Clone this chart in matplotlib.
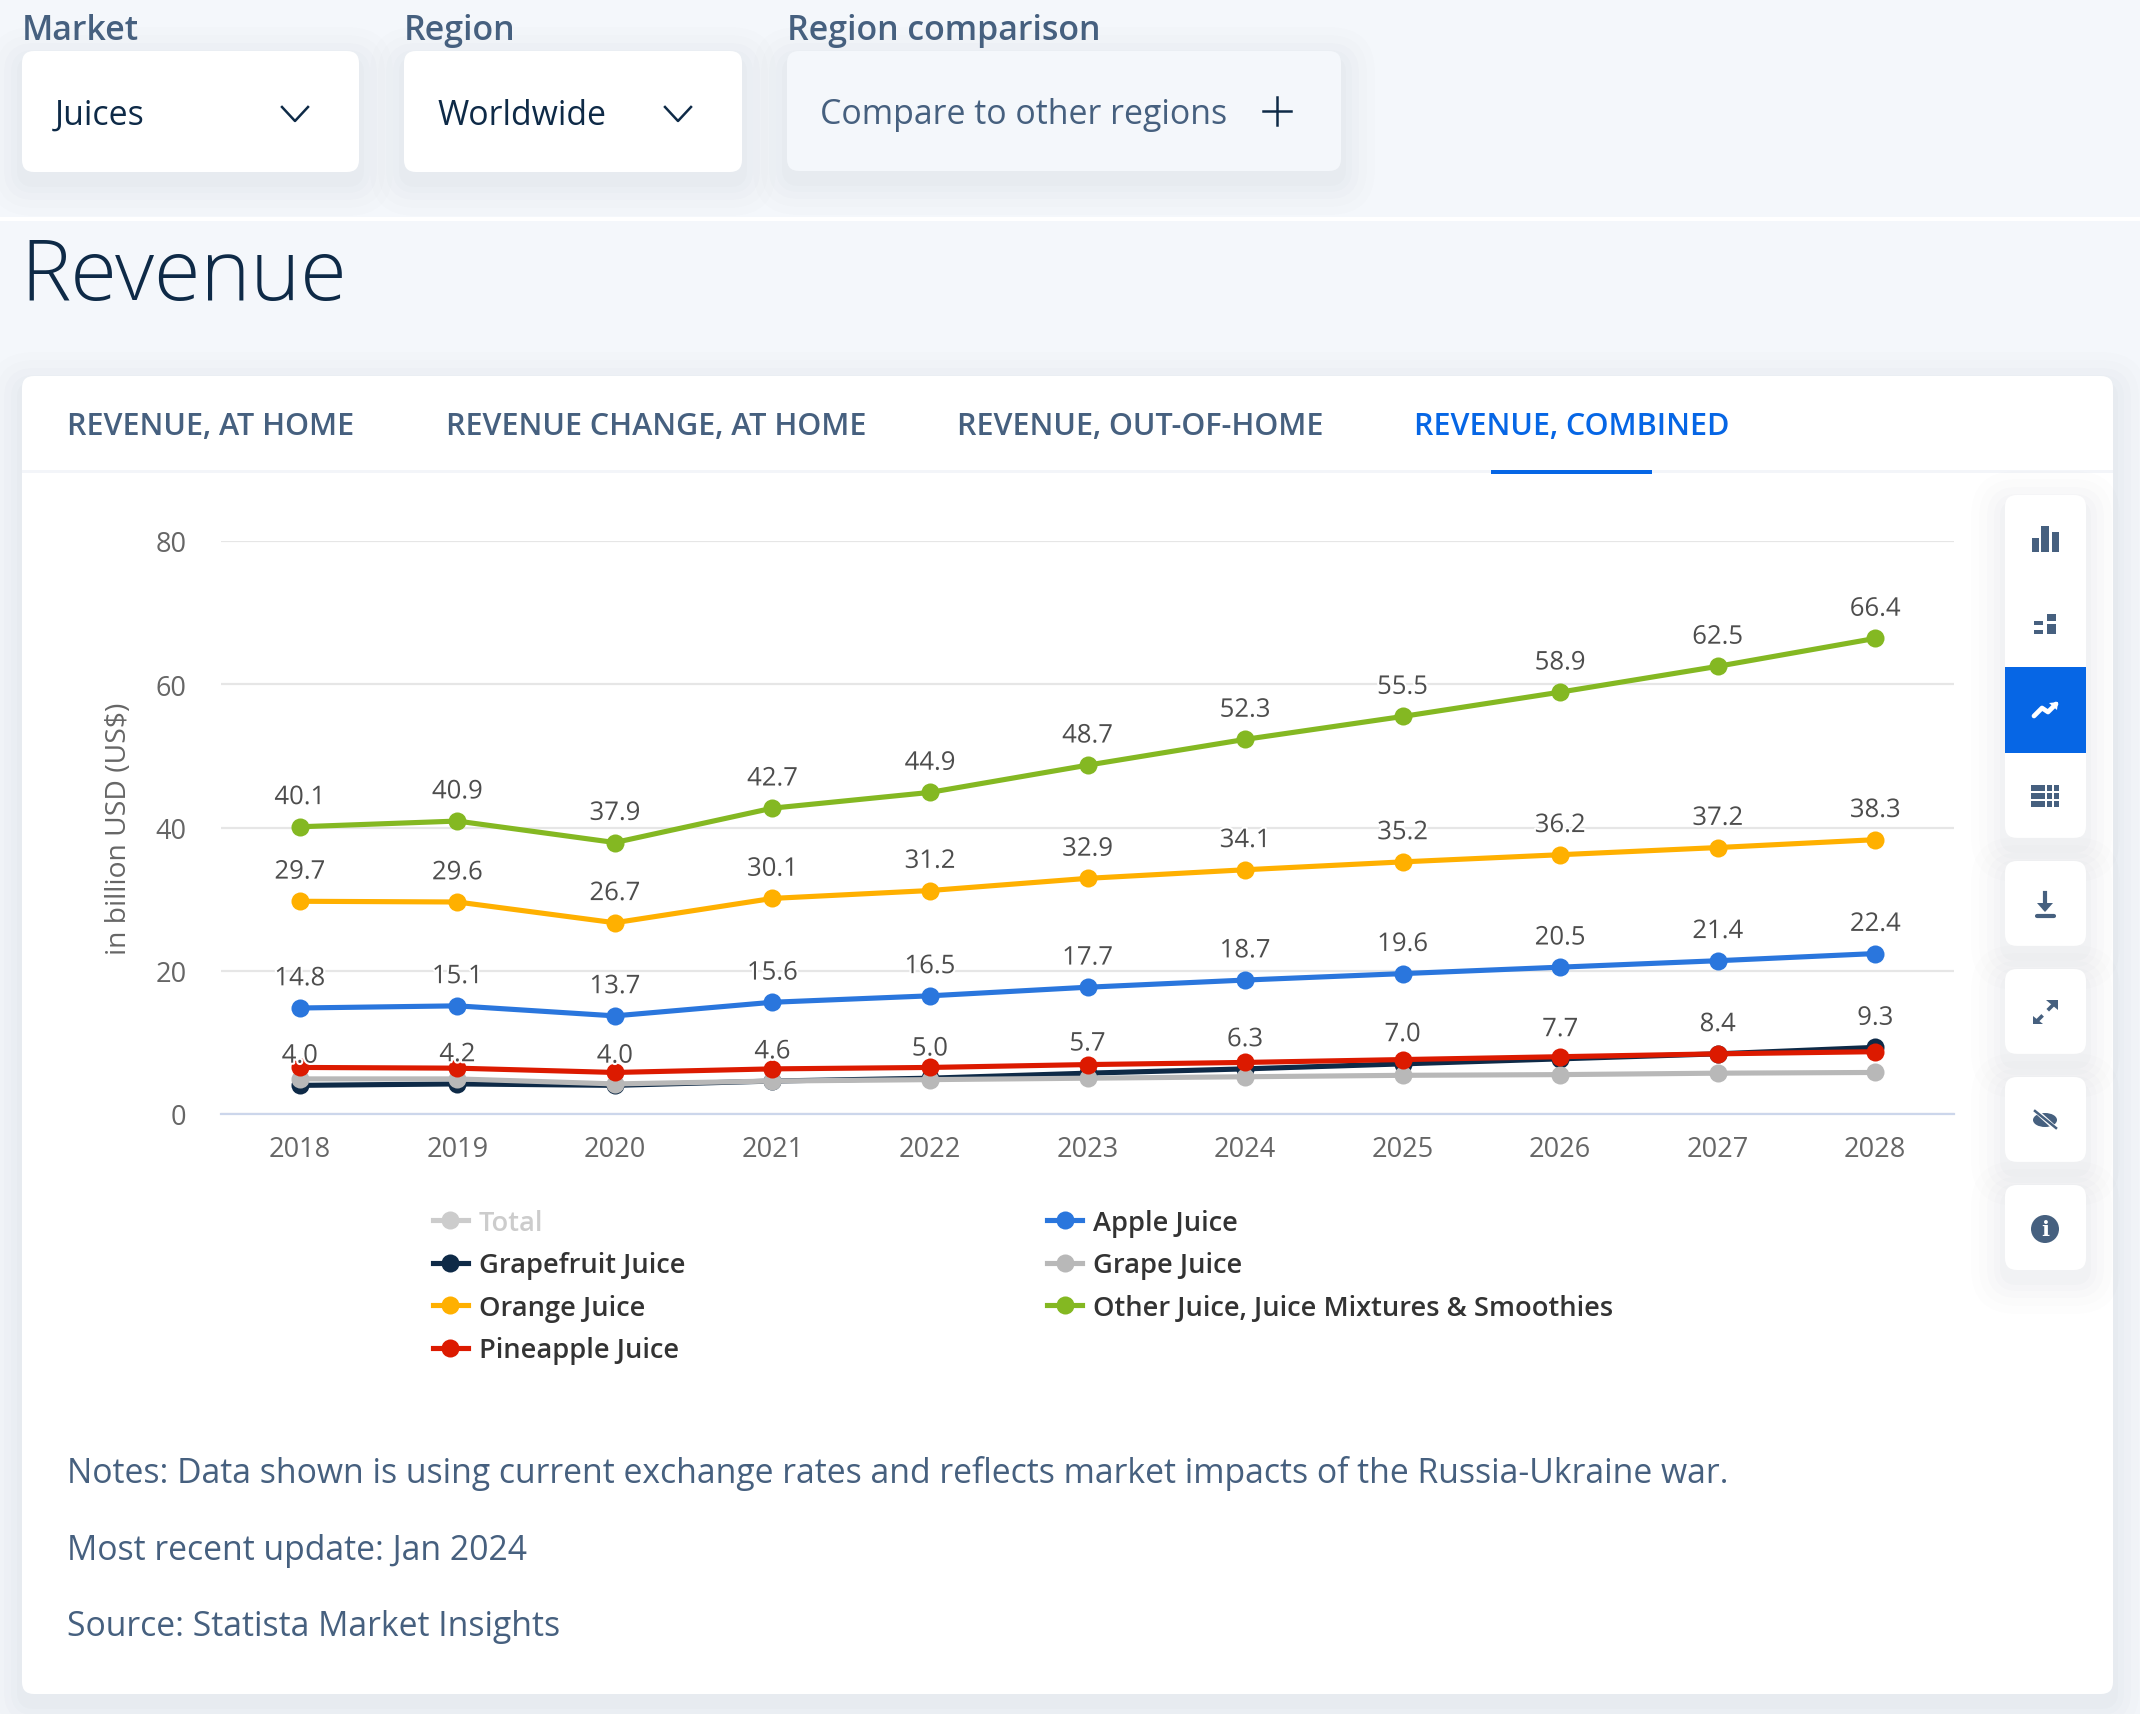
import matplotlib
matplotlib.use("Agg")
import matplotlib.pyplot as plt
import matplotlib.patheffects as pe
from matplotlib.lines import Line2D
from matplotlib.patches import FancyBboxPatch, Rectangle, Circle, Polygon, Ellipse

plt.rcParams['font.family'] = ['Open Sans', 'DejaVu Sans']

W, H = 2140, 1715

years = [2018, 2019, 2020, 2021, 2022, 2023, 2024, 2025, 2026, 2027, 2028]
apple = [14.8, 15.1, 13.7, 15.6, 16.5, 17.7, 18.7, 19.6, 20.5, 21.4, 22.4]
grapefruit = [4.0, 4.2, 4.0, 4.6, 5.0, 5.7, 6.3, 7.0, 7.7, 8.4, 9.3]
grape = [4.9, 4.9, 4.2, 4.6, 4.8, 5.0, 5.2, 5.4, 5.5, 5.7, 5.8]
orange = [29.7, 29.6, 26.7, 30.1, 31.2, 32.9, 34.1, 35.2, 36.2, 37.2, 38.3]
other = [40.1, 40.9, 37.9, 42.7, 44.9, 48.7, 52.3, 55.5, 58.9, 62.5, 66.4]
pineapple = [6.5, 6.4, 5.8, 6.3, 6.5, 6.9, 7.2, 7.6, 8.0, 8.4, 8.7]

y_ticks = [0, 20, 40, 60, 80]
tabs = [("REVENUE, AT HOME", 67), ("REVENUE CHANGE, AT HOME", 446), ("REVENUE, OUT-OF-HOME", 957), ("REVENUE, COMBINED", 1414)]
notes = [("Notes: Data shown is using current exchange rates and reflects market impacts of the Russia-Ukraine war.", 1474),
         ("Most recent update: Jan 2024", 1551),
         ("Source: Statista Market Insights", 1627)]

SLATE = '#46607f'
NAVY = '#0e2a47'
BLUE = '#0666e5'

fig = plt.figure(figsize=(W / 100, H / 100), dpi=100, facecolor='#f4f7fb')

# page furniture in pixel coordinates
ui = fig.add_axes([0, 0, 1, 1], zorder=0)
ui.set_xlim(0, W)
ui.set_ylim(H, 0)
ui.axis('off')


def box(x0, y0, x1, y1, color='white', radius=12, shadow=True):
    if shadow:
        for grow, alpha in [(34, 0.006), (26, 0.008), (18, 0.01), (11, 0.012), (5, 0.016)]:
            ui.add_patch(FancyBboxPatch((x0 - grow, y0 - grow + 10), x1 - x0 + 2 * grow, y1 - y0 + 2 * grow,
                                        boxstyle="round,pad=0,rounding_size=%d" % (radius + grow),
                                        fc='#33476b', ec='none', alpha=alpha))
    ui.add_patch(FancyBboxPatch((x0, y0), x1 - x0, y1 - y0, boxstyle="round,pad=0,rounding_size=%d" % radius,
                                fc=color, ec='none'))


# top filters
ui.text(22, 31, "Market", fontsize=24.4, color=SLATE, weight=600, va='center')
ui.text(404, 31, "Region", fontsize=24.4, color=SLATE, weight=600, va='center')
ui.text(787, 31, "Region comparison", fontsize=24.4, color=SLATE, weight=600, va='center')
box(22, 52, 359, 173)
box(404, 52, 742, 173)
box(787, 52, 1341, 172, color='#f4f7fb')
ui.text(55, 116, "Juices", fontsize=24.4, color=NAVY, va='center')
ui.text(438, 116, "Worldwide", fontsize=24.4, color=NAVY, va='center')
ui.text(820, 115, "Compare to other regions", fontsize=24.4, color=SLATE, va='center')
for cx in (295, 678):
    ui.plot([cx - 13, cx, cx + 13], [108, 122, 108], color=NAVY, lw=1.8)
ui.plot([1277, 1277], [98, 126], color=NAVY, lw=1.8)
ui.plot([1263, 1291], [112, 112], color=NAVY, lw=1.8)
ui.add_patch(Rectangle((0, 218), W, 4, fc='white', ec='none'))

ui.text(20, 278, "Revenue", fontsize=61, color=NAVY, weight=300, va='center')

# chart card and tabs
box(22, 377, 2113, 1695)
ui.add_patch(Rectangle((22, 471), 2091, 3, fc='#f3f5f9', ec='none'))
for i, (label, x) in enumerate(tabs):
    ui.text(x, 427, label, fontsize=22, weight=600, va='center', color=BLUE if i == 3 else SLATE)
ui.add_patch(Rectangle((1491, 471), 161, 4, fc=BLUE, ec='none'))

for label, y in notes:
    ui.text(67, y, label, fontsize=24.35, color=SLATE, va='center')

# side buttons
box(2005, 496, 2086, 839)
box(2005, 862, 2086, 947)
box(2005, 970, 2086, 1055)
box(2005, 1078, 2086, 1163)
box(2005, 1186, 2086, 1271)
ui.add_patch(Rectangle((2005, 668), 81, 86, fc=BLUE, ec='none'))
# bar icon
for x, top in [(2032, 539), (2041, 527), (2052, 533)]:
    ui.add_patch(Rectangle((x, top), 7 if x != 2041 else 8, 553 - top, fc=SLATE, ec='none'))
# stacked icon
ui.add_patch(Rectangle((2034, 622), 9, 4, fc=SLATE, ec='none'))
ui.add_patch(Rectangle((2034, 631), 9, 4, fc=SLATE, ec='none'))
ui.add_patch(Rectangle((2047, 615), 9, 7, fc=SLATE, ec='none'))
ui.add_patch(Rectangle((2047, 625), 9, 10, fc=SLATE, ec='none'))
# line icon
ui.plot([2034, 2042, 2048, 2056], [717, 709, 713, 705], color='white', lw=3.4, solid_capstyle='round')
ui.add_patch(Polygon([[2049, 704], [2058, 703], [2057, 711]], fc='white', ec='none'))
# table icon
for y in (786, 794, 802):
    ui.add_patch(Rectangle((2031, y), 14, 6, fc=SLATE, ec='none'))
    ui.add_patch(Rectangle((2047, y), 5, 6, fc=SLATE, ec='none'))
    ui.add_patch(Rectangle((2054, y), 5, 6, fc=SLATE, ec='none'))
# download icon
ui.plot([2045, 2045], [894, 909], color=SLATE, lw=3)
ui.add_patch(Polygon([[2037, 904], [2053, 904], [2045, 913]], fc=SLATE, ec='none'))
ui.plot([2037, 2054], [917, 917], color=SLATE, lw=3, solid_capstyle='round')
# expand icon
ui.plot([2036, 2054], [1023, 1005], color=SLATE, lw=2.6, dashes=(2.6, 2))
ui.add_patch(Polygon([[2046, 1001], [2058, 1001], [2058, 1011]], fc=SLATE, ec='none'))
ui.add_patch(Polygon([[2033, 1017], [2033, 1025], [2043, 1025]], fc=SLATE, ec='none'))
# hidden icon
ui.add_patch(Ellipse((2045, 1121), 24, 14, fc=SLATE, ec='none'))
ui.plot([2035, 2056], [1111, 1130], color='white', lw=3.4)
ui.plot([2035, 2056], [1112, 1129], color=SLATE, lw=1.8)
# info icon
ui.add_patch(Circle((2045, 1230), 14, fc=SLATE, ec='none'))
ui.text(2045, 1230, "i", fontsize=15, weight='bold', color='white', ha='center', va='center', family='DejaVu Serif')

# chart
ax = fig.add_axes([221 / W, 1 - 1115 / H, (1954 - 221) / W, (1115 - 542) / H], zorder=2)
ax.patch.set_alpha(0)
ax.set_xlim(2017.5, 2028.5)
ax.set_ylim(0, 80)
for side in ('top', 'right', 'left'):
    ax.spines[side].set_visible(False)
ax.spines['bottom'].set_color('#ccd6eb')
ax.spines['bottom'].set_linewidth(1.6)
ax.grid(axis='y', color='#e6e6e6', lw=1.6)
ax.set_axisbelow(True)
ax.set_xticks(years)
ax.set_yticks(y_ticks)
ax.tick_params(axis='both', length=0, labelsize=19.5, labelcolor='#666666')
ax.tick_params(axis='x', pad=15)
ax.tick_params(axis='y', pad=25)
ax.set_ylabel("in billion USD (US$)", fontsize=20.3, color='#666666', labelpad=16)

series = [
    ("Apple Juice", apple, '#2a76dd', True),
    ("Grapefruit Juice", grapefruit, NAVY, True),
    ("Grape Juice", grape, '#b8b8b8', False),
    ("Orange Juice", orange, '#ffb000', True),
    ("Other Juice, Juice Mixtures & Smoothies", other, '#84b822', True),
    ("Pineapple Juice", pineapple, '#dc1a00', False),
]
handles = {}
for name, values, color, labelled in series:
    line, = ax.plot(years, values, color=color, lw=3.7, marker='o', ms=13, mec='none', clip_on=False)
    handles[name] = line
    if labelled:
        for x, v in zip(years, values):
            ax.annotate("%.1f" % v, (x, v), xytext=(0, 21), textcoords='offset points', ha='center', va='center',
                        fontsize=18.5, color='#4d4d4d', zorder=10,
                        path_effects=[pe.withStroke(linewidth=3, foreground='white')])

# legend fills columns first, which gives the same rows as the reference
legend_names = ["Total", "Grapefruit Juice", "Orange Juice", "Pineapple Juice",
                "Apple Juice", "Grape Juice", "Other Juice, Juice Mixtures & Smoothies"]
total_handle = Line2D([], [], color='#cccccc', lw=3.7, marker='o', ms=13, mec='none')
legend_handles = [total_handle if n == "Total" else handles[n] for n in legend_names]
leg = fig.legend(legend_handles, legend_names, ncol=2, frameon=False, loc='upper left',
                 bbox_to_anchor=(433 / W, 1 - 1210 / H), fontsize=19.6, handlelength=1.28, handletextpad=0.4,
                 columnspacing=13.3, labelspacing=0.53, borderpad=0, borderaxespad=0)
for text in leg.get_texts():
    text.set_weight(600)
    text.set_color('#333333')
leg.get_texts()[0].set_color('#cccccc')

fig.savefig("out.png", dpi=100, facecolor=fig.get_facecolor())
